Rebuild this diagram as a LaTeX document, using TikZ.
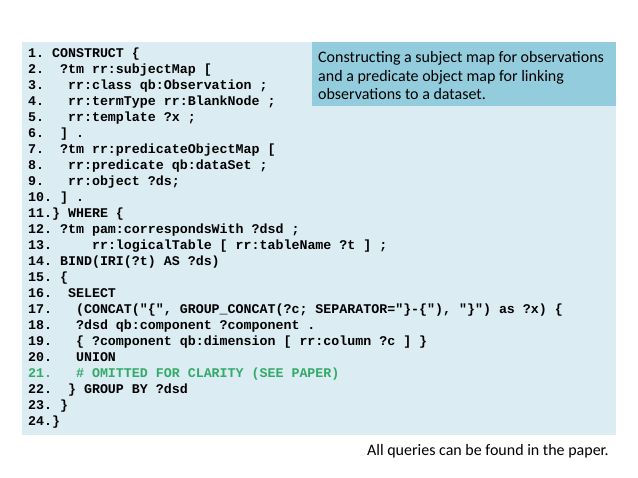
\documentclass[tikz,border=0pt]{standalone}
\usepackage{fontspec}
\setmainfont{Carlito}
\setmonofont{Liberation Mono}
\usetikzlibrary{positioning}
\definecolor{panelblue}{RGB}{219,236,243}
\definecolor{noteblue}{RGB}{147,205,221}
\definecolor{commentgreen}{RGB}{52,170,104}
\frenchspacing

\begin{document}
\begin{tikzpicture}[x=1pt,y=-1pt,
    code line/.style={anchor=base west,inner sep=0pt,font=\fontsize{13.3}{16}\selectfont\ttfamily\bfseries},
    note text/.style={anchor=north west,inner sep=0pt,align=left,font=\fontsize{16}{18.8}\selectfont}]
    \useasboundingbox (0,0) rectangle (638,478);
    \fill[panelblue] (22,42) rectangle (616,435);
    \fill[noteblue] (312,42) rectangle (616,106);

    \node[code line] (l1) at (28,58) {1. CONSTRUCT \{};
    \node[code line] (l2) at (28,74) {2.\ \ ?tm rr:subjectMap [};
    \node[code line] (l3) at (28,90) {3.\ \ \ rr:class qb:Observation ;};
    \node[code line] (l4) at (28,106) {4.\ \ \ rr:termType rr:BlankNode ;};
    \node[code line] (l5) at (28,122) {5.\ \ \ rr:template ?x ;};
    \node[code line] (l6) at (28,138) {6.\ \ ] .};
    \node[code line] (l7) at (28,154) {7.\ \ ?tm rr:predicateObjectMap [};
    \node[code line] (l8) at (28,170) {8.\ \ \ rr:predicate qb:dataSet ;};
    \node[code line] (l9) at (28,186) {9.\ \ \ rr:object ?ds;};
    \node[code line] (l10) at (28,202) {10. ] .};
    \node[code line] (l11) at (28,218) {11.\} WHERE \{};
    \node[code line] (l12) at (28,234) {12. ?tm pam:correspondsWith ?dsd ;};
    \node[code line] (l13) at (28,250) {13.\ \ \ \ \ rr:logicalTable [ rr:tableName ?t ] ;};
    \node[code line] (l14) at (28,266) {14. BIND(IRI(?t) AS ?ds)};
    \node[code line] (l15) at (28,282) {15. \{};
    \node[code line] (l16) at (28,298) {16.\ \ SELECT};
    \node[code line] (l17) at (28,314) {17.\ \ \ (CONCAT("\{", GROUP\_CONCAT(?c; SEPARATOR="\}-\{"), "\}") as ?x) \{};
    \node[code line] (l18) at (28,330) {18.\ \ \ ?dsd qb:component ?component .};
    \node[code line] (l19) at (28,346) {19.\ \ \ \{ ?component qb:dimension [ rr:column ?c ] \}};
    \node[code line] (l20) at (28,362) {20.\ \ \ UNION};
    \node[code line,text=commentgreen] (l21) at (28,378) {21.\ \ \ \# OMITTED FOR CLARITY (SEE PAPER)};
    \node[code line] (l22) at (28,394) {22.\ \ \} GROUP BY ?dsd};
    \node[code line] (l23) at (28,410) {23. \}};
    \node[code line] (l24) at (28,426) {24.\}};

    % callout and caption
    \node[note text] (note) at (318,51) {Constructing a subject map for observations\\and a predicate object map for linking\\observations to a dataset.};
    \node[anchor=base east,inner sep=0pt,font=\fontsize{16}{18.8}\selectfont] (caption) at (609,456) {All queries can be found in the paper.};
\end{tikzpicture}
\end{document}
